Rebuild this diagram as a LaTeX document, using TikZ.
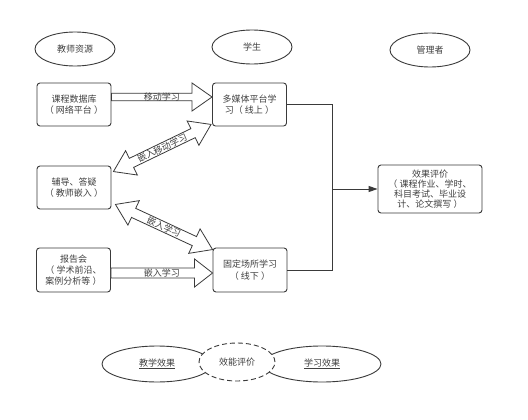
\documentclass[tikz,border=0pt]{standalone}
\usepackage{fontspec}
\setmainfont{Noto Sans CJK SC}
\usetikzlibrary{shapes.geometric,calc,arrows.meta}
\definecolor{lc}{HTML}{3A3A3A}
\definecolor{tc}{HTML}{404040}
\newcommand{\singleblockarrow}[6]{%
  \coordinate (qq) at ($(#2)!#5!(#1)$);
  \draw[barrow] ($(#1)!#3!90:(#2)$) -- ($(qq)!#3!-90:(#1)$) -- ($(qq)!#4!-90:(#1)$) -- (#2)
     -- ($(qq)!#4!90:(#1)$) -- ($(qq)!#3!90:(#1)$) -- ($(#1)!#3!-90:(#2)$) -- cycle;
  \path (#1) -- (#2) node[midway,sloped,alabel]{#6};}
\newcommand{\doubleblockarrow}[6]{%
  \coordinate (qa) at ($(#1)!#5!(#2)$);
  \coordinate (qb) at ($(#2)!#5!(#1)$);
  \draw[barrow] (#1) -- ($(qa)!#4!90:(#2)$) -- ($(qa)!#3!90:(#2)$) -- ($(qb)!#3!-90:(#1)$)
     -- ($(qb)!#4!-90:(#1)$) -- (#2) -- ($(qb)!#4!90:(#1)$) -- ($(qb)!#3!90:(#1)$)
     -- ($(qa)!#3!-90:(#2)$) -- ($(qa)!#4!-90:(#2)$) -- cycle;
  \path (#1) -- (#2) node[midway,sloped,alabel]{#6};}
\tikzset{
  every node/.style={text=tc,font=\fontsize{9}{11.5}\selectfont},
  oval/.style={ellipse,draw=lc,line width=0.9pt,inner sep=0pt,minimum width=80pt,minimum height=34pt},
  box/.style={rectangle,rounded corners=3pt,draw=lc,line width=0.9pt,align=center,inner sep=1pt,minimum width=74pt,minimum height=43pt},
  barrow/.style={draw=lc,fill=white,line width=0.8pt,line join=miter},
  alabel/.style={inner sep=0pt,font=\fontsize{9}{10}\selectfont},
  conn/.style={draw=lc,line width=1pt}
}
\begin{document}
\begin{tikzpicture}[x=1pt,y=-1pt]
\useasboundingbox[fill=white] (0,0) rectangle (528,420);
% header ellipses
\node[oval] (res) at (75,49) {教师资源};
\node[oval] (stu) at (252,47) {学生};
\node[oval] (mgr) at (430,50) {管理者};
% boxes
\node[box] (db) at (74,104.5) {课程数据库\\（ 网络平台 ）};
\node[box] (mm) at (249.5,104.5) {多媒体平台学\\习（ 线上 ）};
\node[box] (tut) at (74,187.5) {辅导、答疑\\（ 教师嵌入 ）};
\node[box,minimum height=44pt,font=\fontsize{9}{11}\selectfont] (rep) at (73.5,270) {报告会\\（ 学术前沿、\\案例分析等 ）};
\node[box,minimum height=44pt] (fix) at (250,270) {固定场所学习\\（ 线下 ）};
\node[box,minimum width=104pt,minimum height=48pt,font=\fontsize{9}{10.2}\selectfont] (eva) at (430,189) {效果评价\\（ 课程作业、学时、\\科目考试、毕业设\\计、论文撰写 ）};
% block arrows
\coordinate (a1s) at ($(db.east)+(0,-7.5)$);
\coordinate (a1e) at ($(mm.west)+(0,-7.5)$);
\singleblockarrow{a1s}{a1e}{3.8pt}{14pt}{20pt}{移动学习}
\coordinate (a2s) at ($(rep.east)+(0,3)$);
\coordinate (a2e) at ($(fix.west)+(0,3)$);
\singleblockarrow{a2s}{a2e}{5pt}{14pt}{18pt}{嵌入学习}
\coordinate (d1s) at ($(tut.north east)+(2,6)$);
\coordinate (d1e) at ($(mm.south west)+(-1,-2)$);
\doubleblockarrow{d1s}{d1e}{5pt}{13.5pt}{20pt}{嵌入移动学习}
\coordinate (d2s) at ($(tut.south east)+(4,-5)$);
\coordinate (d2e) at ($(fix.north west)+(0,2)$);
\doubleblockarrow{d2s}{d2e}{5pt}{13.5pt}{20pt}{嵌入学习}
% connector to evaluation
\coordinate (j) at (332,189);
\draw[conn] (mm.east) -- (mm.east -| j) -- (fix.east -| j) -- (fix.east);
\draw[conn,-{Triangle[length=9pt,width=6pt]}] (j) -- (eva.west);
% bottom ellipses
\node[oval,minimum width=110pt,minimum height=36pt] (teach) at (157,364) {\underline{教学效果}};
\node[oval,minimum width=118pt,minimum height=36pt] (learn) at (322,364) {\underline{学习效果}};
\node[oval,dashed,dash pattern=on 5pt off 3pt,fill=white,minimum width=76pt,minimum height=38pt] (eff) at (237,362) {效能评价};
\end{tikzpicture}
\end{document}
